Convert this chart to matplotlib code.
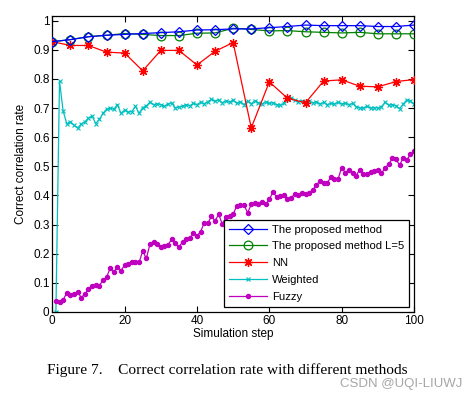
import matplotlib
matplotlib.use("Agg")
import matplotlib.pyplot as plt
import numpy as np

# ---- data ----
steps5 = list(range(0, 101, 5))
proposed = [0.928, 0.935, 0.945, 0.950, 0.953, 0.956, 0.959, 0.962, 0.968, 0.969, 0.972,
            0.972, 0.976, 0.980, 0.985, 0.983, 0.983, 0.983, 0.980, 0.980, 0.985]
proposed_L5 = [0.928, 0.935, 0.945, 0.950, 0.956, 0.953, 0.949, 0.949, 0.957, 0.958, 0.974,
               0.970, 0.965, 0.966, 0.962, 0.960, 0.958, 0.960, 0.955, 0.955, 0.955]
nn = [0.928, 0.915, 0.915, 0.892, 0.889, 0.828, 0.898, 0.898, 0.848, 0.895, 0.925,
      0.632, 0.790, 0.734, 0.718, 0.793, 0.797, 0.775, 0.773, 0.791, 0.798]

steps1 = list(range(1, 101))
weighted = [0.000, 0.793, 0.690, 0.647, 0.653, 0.641, 0.632, 0.645, 0.653, 0.665,
            0.673, 0.647, 0.661, 0.682, 0.696, 0.700, 0.696, 0.712, 0.682, 0.694,
            0.686, 0.688, 0.706, 0.682, 0.702, 0.708, 0.720, 0.712, 0.715, 0.712,
            0.706, 0.714, 0.718, 0.700, 0.704, 0.706, 0.712, 0.708, 0.716, 0.712,
            0.720, 0.715, 0.722, 0.730, 0.724, 0.728, 0.718, 0.725, 0.720, 0.728,
            0.716, 0.722, 0.712, 0.724, 0.715, 0.726, 0.718, 0.714, 0.722, 0.716,
            0.718, 0.712, 0.710, 0.716, 0.730, 0.735, 0.728, 0.722, 0.726, 0.720,
            0.724, 0.718, 0.722, 0.714, 0.720, 0.712, 0.716, 0.714, 0.720, 0.714,
            0.718, 0.712, 0.716, 0.705, 0.700, 0.700, 0.706, 0.700, 0.702, 0.700,
            0.705, 0.720, 0.710, 0.712, 0.708, 0.698, 0.714, 0.728, 0.724, 0.714]
fuzzy = [0.038, 0.033, 0.041, 0.066, 0.057, 0.062, 0.070, 0.049, 0.062, 0.078,
         0.090, 0.094, 0.090, 0.109, 0.119, 0.150, 0.136, 0.155, 0.142, 0.161,
         0.166, 0.173, 0.170, 0.170, 0.209, 0.184, 0.233, 0.239, 0.233, 0.224,
         0.228, 0.230, 0.250, 0.236, 0.222, 0.241, 0.249, 0.253, 0.270, 0.261,
         0.276, 0.306, 0.304, 0.329, 0.313, 0.335, 0.302, 0.325, 0.330, 0.335,
         0.365, 0.366, 0.367, 0.341, 0.369, 0.375, 0.369, 0.376, 0.369, 0.387,
         0.411, 0.396, 0.397, 0.401, 0.389, 0.392, 0.404, 0.400, 0.410, 0.405,
         0.410, 0.419, 0.436, 0.450, 0.444, 0.444, 0.462, 0.456, 0.456, 0.496,
         0.478, 0.489, 0.478, 0.468, 0.489, 0.473, 0.473, 0.479, 0.485, 0.489,
         0.476, 0.495, 0.507, 0.527, 0.525, 0.504, 0.529, 0.521, 0.542, 0.553]

labels = ["The proposed method", "The proposed method L=5", "NN", "Weighted", "Fuzzy"]
xticks = [0, 20, 40, 60, 80, 100]
yticks = [0, 0.1, 0.2, 0.3, 0.4, 0.5, 0.6, 0.7, 0.8, 0.9, 1]
ytick_labels = ["0", "0.1", "0.2", "0.3", "0.4", "0.5", "0.6", "0.7", "0.8", "0.9", "1"]

plt.rcParams['font.family'] = ['Liberation Sans', 'DejaVu Sans']

fig = plt.figure(figsize=(4.77, 4.01), dpi=100)
ax = fig.add_axes([0.1096, 0.222, 0.7584, 0.738])

lw = 0.9
ax.plot(steps5, proposed, color='#0000ff', lw=lw, marker='D', ms=5.2, mfc='none', mec='#0000ff', mew=0.9, label=labels[0], zorder=5)
ax.plot(steps5, proposed_L5, color='#008000', lw=lw, marker='o', ms=6.3, mfc='none', mec='#008000', mew=0.9, label=labels[1], zorder=4)
ax.plot(steps5, nn, color='#ff0000', lw=lw, marker=(8, 2, 0), ms=6.5, mec='#ff0000', mew=0.9, label=labels[2], zorder=3)
ax.plot(steps1, weighted, color='#00bfbf', lw=lw, marker='x', ms=3, mew=0.8, label=labels[3], zorder=2)
ax.plot(steps1, fuzzy, color='#bf00bf', lw=lw, marker='o', ms=2.9, mec='#bf00bf', mfc='#bf00bf', label=labels[4], zorder=2)

ax.set_xlim(0, 100)
ax.set_ylim(0, 1.016)
ax.set_xticks(xticks)
ax.set_yticks(yticks)
ax.set_yticklabels(ytick_labels)
ax.tick_params(direction='in', top=True, right=True, labelsize=8.5, length=4, width=0.8, pad=2)
for s in ax.spines.values():
    s.set_linewidth(0.9)

ax.set_xlabel("Simulation step", fontsize=8.5, labelpad=1)
ax.set_ylabel("Correct correlation rate", fontsize=8.5, labelpad=4)

leg = ax.legend(loc='lower right', bbox_to_anchor=(0.986, 0.018), borderaxespad=0,
                fontsize=8.1, frameon=True, fancybox=False, edgecolor='black',
                handlelength=3.4, handletextpad=0.4, labelspacing=0.6, borderpad=0.45)
leg.get_frame().set_linewidth(0.9)
leg.get_frame().set_alpha(1)

fig.text(0.0985, 0.077, "Figure 7.    Correct correlation rate with different methods",
         family=['Liberation Serif', 'DejaVu Serif'], fontsize=11.1, va='center', ha='left')
fig.text(0.969, 0.042, "CSDN @UQI-LIUWJ", color='#a6a6a6', fontsize=9.5, va='center', ha='right')

fig.savefig("out.png", dpi=100)
